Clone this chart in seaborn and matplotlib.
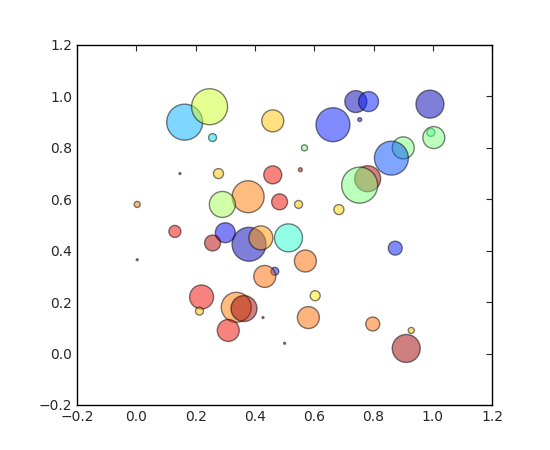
import matplotlib
matplotlib.use("Agg")
import matplotlib.pyplot as plt
import seaborn as sns
import numpy as np

x = [0.163,0.247,0.257,0.46,0.567,0.663,0.74,0.783,0.753,0.99,0.993,1.003,0.9,0.86,0.78,0.753,
     0.147,0.277,0.46,0.553,0.377,0.29,0.483,0.547,0.683,0.003,0.13,0.3,0.257,0.38,0.42,0.513,
     0.873,0.003,0.57,0.467,0.433,0.603,0.22,0.213,0.337,0.363,0.427,0.58,0.797,0.31,0.927,0.91,0.5]
y = [0.90,0.96,0.84,0.905,0.80,0.89,0.98,0.98,0.91,0.97,0.86,0.84,0.80,0.76,0.68,0.655,
     0.70,0.70,0.695,0.715,0.61,0.58,0.59,0.58,0.56,0.58,0.475,0.47,0.43,0.425,0.45,0.45,
     0.41,0.365,0.36,0.32,0.30,0.225,0.22,0.165,0.18,0.175,0.14,0.14,0.115,0.09,0.09,0.02,0.04]
sizes = [671,671,33,250,19,598,250,207,8,406,33,250,250,598,350,671,
         2,52,168,8,530,350,132,33,52,19,75,207,132,598,298,406,
         101,2,250,33,250,52,298,33,466,350,2,250,101,250,19,406,2]
cvals = [0.3,0.6,0.35,0.7,0.5,0.15,0.05,0.15,0.15,0.05,0.4,0.5,0.5,0.2,0.95,0.5,
         0.9,0.7,0.9,0.9,0.78,0.55,0.9,0.7,0.68,0.78,0.9,0.1,0.95,0.05,0.75,0.4,
         0.15,0.9,0.8,0.15,0.8,0.66,0.9,0.7,0.78,0.97,0.9,0.8,0.8,0.9,0.7,0.97,0.9]

sns.set_style("white")
fig = plt.figure(figsize=(5.5, 4.5), dpi=100)
ax = fig.add_axes([0.14, 0.1, 0.755, 0.8])
cols = [plt.cm.jet(v) for v in cvals]
sns.scatterplot(x=x, y=y, s=sizes, c=cols, alpha=0.5, edgecolor="black", linewidth=1, ax=ax, legend=False)
ax.set_xlim(-0.2, 1.2)
ax.set_ylim(-0.2, 1.2)
ax.set_xticks(np.arange(-0.2, 1.21, 0.2))
ax.set_yticks(np.arange(-0.2, 1.21, 0.2))
ax.tick_params(direction="in", length=4, top=True, right=True, labelsize=10)
for s in ax.spines.values():
    s.set_color("black"); s.set_linewidth(1)
fig.savefig("out.png", dpi=100)
